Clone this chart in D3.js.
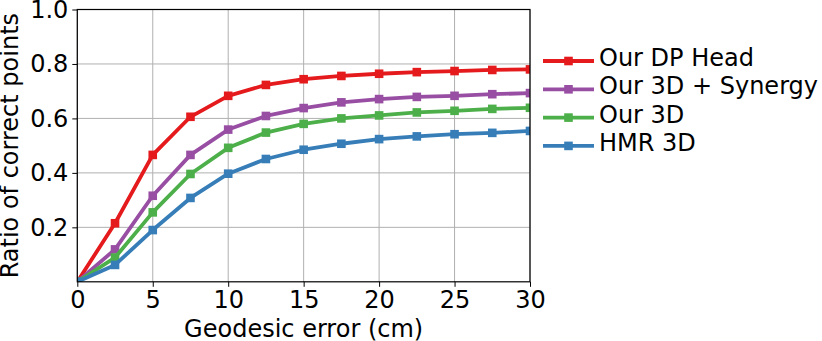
<!DOCTYPE html>
<html><head><meta charset="utf-8">
<script src="https://cdn.jsdelivr.net/npm/d3@7"></script>
<style>
html,body{margin:0;padding:0;background:#fff;}
text{font-family:"DejaVu Sans",sans-serif;fill:#000;}
</style></head>
<body><svg id="chart" width="822" height="341"></svg>
<script>
const xValues = [0, 2.5, 5, 7.5, 10, 12.5, 15, 17.5, 20, 22.5, 25, 27.5, 30];
const seriesNames = ["Our DP Head", "Our 3D + Synergy", "Our 3D", "HMR 3D"];
const seriesColors = ["#e41a1c", "#984ea3", "#4daf4a", "#377eb8"];
const dpHead   = [0.0, 0.215, 0.466, 0.606, 0.683, 0.723, 0.744, 0.756, 0.764, 0.770, 0.774, 0.778, 0.780];
const synergy  = [0.0, 0.119, 0.316, 0.466, 0.559, 0.609, 0.638, 0.659, 0.671, 0.679, 0.683, 0.689, 0.693];
const our3d    = [0.0, 0.089, 0.255, 0.396, 0.492, 0.548, 0.580, 0.600, 0.611, 0.622, 0.628, 0.635, 0.639];
const hmr3d    = [0.0, 0.062, 0.190, 0.308, 0.397, 0.451, 0.485, 0.507, 0.524, 0.534, 0.542, 0.547, 0.554];
const xTicks = [0, 5, 10, 15, 20, 25, 30];
const yTicks = [0.2, 0.4, 0.6, 0.8, 1.0];
const xLabel = "Geodesic error (cm)";
const yLabel = "Ratio of correct points";

const allSeries = [dpHead, synergy, our3d, hmr3d];
const svg = d3.select("#chart");
const L = 77.3, R = 530, T = 9.5, B = 281.8;
const x = d3.scaleLinear().domain([0, 30]).range([L, R]);
const y = d3.scaleLinear().domain([0, 1]).range([B, T]);

svg.append("defs").append("clipPath").attr("id", "plotclip")
  .append("rect").attr("x", L).attr("y", T).attr("width", R - L).attr("height", B - T);

// grid
const g = svg.append("g");
g.selectAll("line.gx").data(xTicks).enter().append("line")
  .attr("x1", d => x(d)).attr("x2", d => x(d)).attr("y1", T).attr("y2", B)
  .attr("stroke", "#b0b0b0").attr("stroke-width", 1);
g.selectAll("line.gy").data(yTicks).enter().append("line")
  .attr("x1", L).attr("x2", R).attr("y1", d => y(d)).attr("y2", d => y(d))
  .attr("stroke", "#b0b0b0").attr("stroke-width", 1);

// series
const plot = svg.append("g").attr("clip-path", "url(#plotclip)");
const line = d3.line().x((d, i) => x(xValues[i])).y(d => y(d));
allSeries.forEach((s, k) => {
  plot.append("path").datum(s).attr("d", line).attr("fill", "none")
    .attr("stroke", seriesColors[k]).attr("stroke-width", 3.8).attr("stroke-linejoin", "round");
  plot.selectAll(null).data(s).enter().append("rect")
    .attr("x", (d, i) => x(xValues[i]) - 4.3).attr("y", d => y(d) - 4.3)
    .attr("width", 8.6).attr("height", 8.6).attr("fill", seriesColors[k]);
});

// axes
const xAxis = d3.axisBottom(x).tickValues(xTicks).tickFormat(d3.format("d")).tickSize(5).tickPadding(4);
const yAxis = d3.axisLeft(y).tickValues(yTicks).tickFormat(d3.format(".1f")).tickSize(5).tickPadding(4);
const gx = svg.append("g").attr("transform", `translate(0,${B})`).call(xAxis);
const gy = svg.append("g").attr("transform", `translate(${L},0)`).call(yAxis);
[gx, gy].forEach(a => {
  a.select(".domain").remove();
  a.selectAll(".tick line").attr("stroke", "#000").attr("stroke-width", 1);
  a.selectAll(".tick text").attr("font-size", 24).attr("font-family", "DejaVu Sans").attr("fill", "#000");
});
svg.append("rect").attr("x", L).attr("y", T).attr("width", R - L).attr("height", B - T)
  .attr("fill", "none").attr("stroke", "#000").attr("stroke-width", 1.2);

// labels
svg.append("text").attr("x", (L + R) / 2).attr("y", 337).attr("text-anchor", "middle")
  .attr("font-size", 24).text(xLabel);
svg.append("text").attr("transform", `translate(18,${(T + B) / 2}) rotate(-90)`)
  .attr("text-anchor", "middle").attr("font-size", 24).text(yLabel);

// legend
seriesNames.forEach((n, k) => {
  const ly = 61 + k * 28.3;
  svg.append("line").attr("x1", 543).attr("x2", 594).attr("y1", ly).attr("y2", ly)
    .attr("stroke", seriesColors[k]).attr("stroke-width", 3.8);
  svg.append("rect").attr("x", 568.5 - 4.3).attr("y", ly - 4.3).attr("width", 8.6).attr("height", 8.6)
    .attr("fill", seriesColors[k]);
  svg.append("text").attr("x", 599).attr("y", ly + 5).attr("font-size", 24).text(n);
});
</script></body></html>
